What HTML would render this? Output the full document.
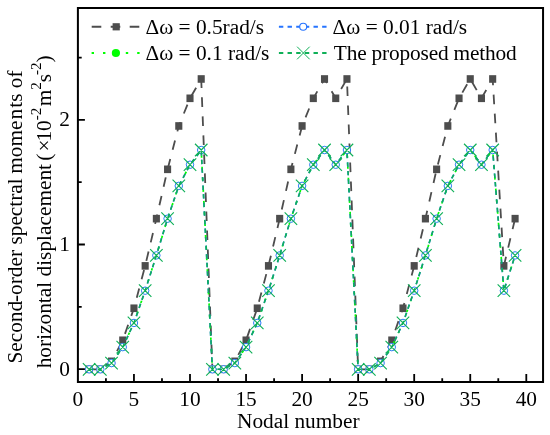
<!DOCTYPE html><html><head><meta charset="utf-8"><title>chart</title><style>html,body{margin:0;padding:0;background:#fff}svg{display:block}text{font-family:"Liberation Serif","Times New Roman",serif;font-size:21.33px;fill:#000}</style></head><body>
<svg width="550" height="435" viewBox="0 0 550 435">
<rect width="550" height="435" fill="#fff"/>
<polyline points="89.11,369.30 100.32,369.30 111.53,361.33 122.74,340.27 133.95,308.25 145.16,265.88 156.37,218.66 167.58,169.32 178.79,125.96 190.00,98.30 201.21,78.98 212.42,369.30 223.63,369.30 234.84,361.33 246.05,340.27 257.26,308.25 268.47,265.88 279.68,218.66 290.89,169.32 302.10,125.96 313.31,98.30 324.52,78.98 335.73,98.30 346.94,78.98 358.15,369.30 369.36,369.30 380.57,361.33 391.78,340.27 402.99,308.25 414.20,265.88 425.41,218.66 436.62,169.32 447.83,125.96 459.04,98.30 470.25,78.98 481.46,98.30 492.67,78.98 503.88,265.88 515.09,218.66" fill="none" stroke="#4d4d4d" stroke-width="1.8" stroke-dasharray="9.6 9.43" stroke-dashoffset="1.5"/>
<rect x="85.56" y="365.50" width="7.1" height="7.6" fill="#4d4d4d"/>
<rect x="96.77" y="365.50" width="7.1" height="7.6" fill="#4d4d4d"/>
<rect x="107.98" y="357.53" width="7.1" height="7.6" fill="#4d4d4d"/>
<rect x="119.19" y="336.47" width="7.1" height="7.6" fill="#4d4d4d"/>
<rect x="130.40" y="304.45" width="7.1" height="7.6" fill="#4d4d4d"/>
<rect x="141.61" y="262.08" width="7.1" height="7.6" fill="#4d4d4d"/>
<rect x="152.82" y="214.86" width="7.1" height="7.6" fill="#4d4d4d"/>
<rect x="164.03" y="165.52" width="7.1" height="7.6" fill="#4d4d4d"/>
<rect x="175.24" y="122.16" width="7.1" height="7.6" fill="#4d4d4d"/>
<rect x="186.45" y="94.50" width="7.1" height="7.6" fill="#4d4d4d"/>
<rect x="197.66" y="75.18" width="7.1" height="7.6" fill="#4d4d4d"/>
<rect x="208.87" y="365.50" width="7.1" height="7.6" fill="#4d4d4d"/>
<rect x="220.08" y="365.50" width="7.1" height="7.6" fill="#4d4d4d"/>
<rect x="231.29" y="357.53" width="7.1" height="7.6" fill="#4d4d4d"/>
<rect x="242.50" y="336.47" width="7.1" height="7.6" fill="#4d4d4d"/>
<rect x="253.71" y="304.45" width="7.1" height="7.6" fill="#4d4d4d"/>
<rect x="264.92" y="262.08" width="7.1" height="7.6" fill="#4d4d4d"/>
<rect x="276.13" y="214.86" width="7.1" height="7.6" fill="#4d4d4d"/>
<rect x="287.34" y="165.52" width="7.1" height="7.6" fill="#4d4d4d"/>
<rect x="298.55" y="122.16" width="7.1" height="7.6" fill="#4d4d4d"/>
<rect x="309.76" y="94.50" width="7.1" height="7.6" fill="#4d4d4d"/>
<rect x="320.97" y="75.18" width="7.1" height="7.6" fill="#4d4d4d"/>
<rect x="332.18" y="94.50" width="7.1" height="7.6" fill="#4d4d4d"/>
<rect x="343.39" y="75.18" width="7.1" height="7.6" fill="#4d4d4d"/>
<rect x="354.60" y="365.50" width="7.1" height="7.6" fill="#4d4d4d"/>
<rect x="365.81" y="365.50" width="7.1" height="7.6" fill="#4d4d4d"/>
<rect x="377.02" y="357.53" width="7.1" height="7.6" fill="#4d4d4d"/>
<rect x="388.23" y="336.47" width="7.1" height="7.6" fill="#4d4d4d"/>
<rect x="399.44" y="304.45" width="7.1" height="7.6" fill="#4d4d4d"/>
<rect x="410.65" y="262.08" width="7.1" height="7.6" fill="#4d4d4d"/>
<rect x="421.86" y="214.86" width="7.1" height="7.6" fill="#4d4d4d"/>
<rect x="433.07" y="165.52" width="7.1" height="7.6" fill="#4d4d4d"/>
<rect x="444.28" y="122.16" width="7.1" height="7.6" fill="#4d4d4d"/>
<rect x="455.49" y="94.50" width="7.1" height="7.6" fill="#4d4d4d"/>
<rect x="466.70" y="75.18" width="7.1" height="7.6" fill="#4d4d4d"/>
<rect x="477.91" y="94.50" width="7.1" height="7.6" fill="#4d4d4d"/>
<rect x="489.12" y="75.18" width="7.1" height="7.6" fill="#4d4d4d"/>
<rect x="500.33" y="262.08" width="7.1" height="7.6" fill="#4d4d4d"/>
<rect x="511.54" y="214.86" width="7.1" height="7.6" fill="#4d4d4d"/>
<polyline points="89.11,369.30 100.32,369.30 111.53,363.07 122.74,347.12 133.95,322.95 145.16,290.68 156.37,255.42 167.58,218.66 178.79,185.89 190.00,164.71 201.21,150.01 212.42,369.30 223.63,369.30 234.84,363.07 246.05,347.12 257.26,322.95 268.47,290.68 279.68,255.42 290.89,218.66 302.10,185.89 313.31,164.71 324.52,150.01 335.73,164.71 346.94,150.01 358.15,369.30 369.36,369.30 380.57,363.07 391.78,347.12 402.99,322.95 414.20,290.68 425.41,255.42 436.62,218.66 447.83,185.89 459.04,164.71 470.25,150.01 481.46,164.71 492.67,150.01 503.88,290.68 515.09,255.42" fill="none" stroke="#00ff00" stroke-width="1.7" stroke-dasharray="2.4 9"/>
<circle cx="89.11" cy="369.30" r="3.6" fill="#00ff00"/>
<circle cx="100.32" cy="369.30" r="3.6" fill="#00ff00"/>
<circle cx="111.53" cy="363.07" r="3.6" fill="#00ff00"/>
<circle cx="122.74" cy="347.12" r="3.6" fill="#00ff00"/>
<circle cx="133.95" cy="322.95" r="3.6" fill="#00ff00"/>
<circle cx="145.16" cy="290.68" r="3.6" fill="#00ff00"/>
<circle cx="156.37" cy="255.42" r="3.6" fill="#00ff00"/>
<circle cx="167.58" cy="218.66" r="3.6" fill="#00ff00"/>
<circle cx="178.79" cy="185.89" r="3.6" fill="#00ff00"/>
<circle cx="190.00" cy="164.71" r="3.6" fill="#00ff00"/>
<circle cx="201.21" cy="150.01" r="3.6" fill="#00ff00"/>
<circle cx="212.42" cy="369.30" r="3.6" fill="#00ff00"/>
<circle cx="223.63" cy="369.30" r="3.6" fill="#00ff00"/>
<circle cx="234.84" cy="363.07" r="3.6" fill="#00ff00"/>
<circle cx="246.05" cy="347.12" r="3.6" fill="#00ff00"/>
<circle cx="257.26" cy="322.95" r="3.6" fill="#00ff00"/>
<circle cx="268.47" cy="290.68" r="3.6" fill="#00ff00"/>
<circle cx="279.68" cy="255.42" r="3.6" fill="#00ff00"/>
<circle cx="290.89" cy="218.66" r="3.6" fill="#00ff00"/>
<circle cx="302.10" cy="185.89" r="3.6" fill="#00ff00"/>
<circle cx="313.31" cy="164.71" r="3.6" fill="#00ff00"/>
<circle cx="324.52" cy="150.01" r="3.6" fill="#00ff00"/>
<circle cx="335.73" cy="164.71" r="3.6" fill="#00ff00"/>
<circle cx="346.94" cy="150.01" r="3.6" fill="#00ff00"/>
<circle cx="358.15" cy="369.30" r="3.6" fill="#00ff00"/>
<circle cx="369.36" cy="369.30" r="3.6" fill="#00ff00"/>
<circle cx="380.57" cy="363.07" r="3.6" fill="#00ff00"/>
<circle cx="391.78" cy="347.12" r="3.6" fill="#00ff00"/>
<circle cx="402.99" cy="322.95" r="3.6" fill="#00ff00"/>
<circle cx="414.20" cy="290.68" r="3.6" fill="#00ff00"/>
<circle cx="425.41" cy="255.42" r="3.6" fill="#00ff00"/>
<circle cx="436.62" cy="218.66" r="3.6" fill="#00ff00"/>
<circle cx="447.83" cy="185.89" r="3.6" fill="#00ff00"/>
<circle cx="459.04" cy="164.71" r="3.6" fill="#00ff00"/>
<circle cx="470.25" cy="150.01" r="3.6" fill="#00ff00"/>
<circle cx="481.46" cy="164.71" r="3.6" fill="#00ff00"/>
<circle cx="492.67" cy="150.01" r="3.6" fill="#00ff00"/>
<circle cx="503.88" cy="290.68" r="3.6" fill="#00ff00"/>
<circle cx="515.09" cy="255.42" r="3.6" fill="#00ff00"/>
<polyline points="89.11,369.30 100.32,369.30 111.53,363.07 122.74,347.12 133.95,322.95 145.16,290.68 156.37,255.42 167.58,218.66 178.79,185.89 190.00,164.71 201.21,150.01 212.42,369.30 223.63,369.30 234.84,363.07 246.05,347.12 257.26,322.95 268.47,290.68 279.68,255.42 290.89,218.66 302.10,185.89 313.31,164.71 324.52,150.01 335.73,164.71 346.94,150.01 358.15,369.30 369.36,369.30 380.57,363.07 391.78,347.12 402.99,322.95 414.20,290.68 425.41,255.42 436.62,218.66 447.83,185.89 459.04,164.71 470.25,150.01 481.46,164.71 492.67,150.01 503.88,290.68 515.09,255.42" fill="none" stroke="#2674ff" stroke-width="1.6" stroke-dasharray="4.4 4.2"/>
<circle cx="89.11" cy="369.30" r="3.75" fill="#fff" stroke="#2674ff" stroke-width="0.95"/>
<circle cx="100.32" cy="369.30" r="3.75" fill="#fff" stroke="#2674ff" stroke-width="0.95"/>
<circle cx="111.53" cy="363.07" r="3.75" fill="#fff" stroke="#2674ff" stroke-width="0.95"/>
<circle cx="122.74" cy="347.12" r="3.75" fill="#fff" stroke="#2674ff" stroke-width="0.95"/>
<circle cx="133.95" cy="322.95" r="3.75" fill="#fff" stroke="#2674ff" stroke-width="0.95"/>
<circle cx="145.16" cy="290.68" r="3.75" fill="#fff" stroke="#2674ff" stroke-width="0.95"/>
<circle cx="156.37" cy="255.42" r="3.75" fill="#fff" stroke="#2674ff" stroke-width="0.95"/>
<circle cx="167.58" cy="218.66" r="3.75" fill="#fff" stroke="#2674ff" stroke-width="0.95"/>
<circle cx="178.79" cy="185.89" r="3.75" fill="#fff" stroke="#2674ff" stroke-width="0.95"/>
<circle cx="190.00" cy="164.71" r="3.75" fill="#fff" stroke="#2674ff" stroke-width="0.95"/>
<circle cx="201.21" cy="150.01" r="3.75" fill="#fff" stroke="#2674ff" stroke-width="0.95"/>
<circle cx="212.42" cy="369.30" r="3.75" fill="#fff" stroke="#2674ff" stroke-width="0.95"/>
<circle cx="223.63" cy="369.30" r="3.75" fill="#fff" stroke="#2674ff" stroke-width="0.95"/>
<circle cx="234.84" cy="363.07" r="3.75" fill="#fff" stroke="#2674ff" stroke-width="0.95"/>
<circle cx="246.05" cy="347.12" r="3.75" fill="#fff" stroke="#2674ff" stroke-width="0.95"/>
<circle cx="257.26" cy="322.95" r="3.75" fill="#fff" stroke="#2674ff" stroke-width="0.95"/>
<circle cx="268.47" cy="290.68" r="3.75" fill="#fff" stroke="#2674ff" stroke-width="0.95"/>
<circle cx="279.68" cy="255.42" r="3.75" fill="#fff" stroke="#2674ff" stroke-width="0.95"/>
<circle cx="290.89" cy="218.66" r="3.75" fill="#fff" stroke="#2674ff" stroke-width="0.95"/>
<circle cx="302.10" cy="185.89" r="3.75" fill="#fff" stroke="#2674ff" stroke-width="0.95"/>
<circle cx="313.31" cy="164.71" r="3.75" fill="#fff" stroke="#2674ff" stroke-width="0.95"/>
<circle cx="324.52" cy="150.01" r="3.75" fill="#fff" stroke="#2674ff" stroke-width="0.95"/>
<circle cx="335.73" cy="164.71" r="3.75" fill="#fff" stroke="#2674ff" stroke-width="0.95"/>
<circle cx="346.94" cy="150.01" r="3.75" fill="#fff" stroke="#2674ff" stroke-width="0.95"/>
<circle cx="358.15" cy="369.30" r="3.75" fill="#fff" stroke="#2674ff" stroke-width="0.95"/>
<circle cx="369.36" cy="369.30" r="3.75" fill="#fff" stroke="#2674ff" stroke-width="0.95"/>
<circle cx="380.57" cy="363.07" r="3.75" fill="#fff" stroke="#2674ff" stroke-width="0.95"/>
<circle cx="391.78" cy="347.12" r="3.75" fill="#fff" stroke="#2674ff" stroke-width="0.95"/>
<circle cx="402.99" cy="322.95" r="3.75" fill="#fff" stroke="#2674ff" stroke-width="0.95"/>
<circle cx="414.20" cy="290.68" r="3.75" fill="#fff" stroke="#2674ff" stroke-width="0.95"/>
<circle cx="425.41" cy="255.42" r="3.75" fill="#fff" stroke="#2674ff" stroke-width="0.95"/>
<circle cx="436.62" cy="218.66" r="3.75" fill="#fff" stroke="#2674ff" stroke-width="0.95"/>
<circle cx="447.83" cy="185.89" r="3.75" fill="#fff" stroke="#2674ff" stroke-width="0.95"/>
<circle cx="459.04" cy="164.71" r="3.75" fill="#fff" stroke="#2674ff" stroke-width="0.95"/>
<circle cx="470.25" cy="150.01" r="3.75" fill="#fff" stroke="#2674ff" stroke-width="0.95"/>
<circle cx="481.46" cy="164.71" r="3.75" fill="#fff" stroke="#2674ff" stroke-width="0.95"/>
<circle cx="492.67" cy="150.01" r="3.75" fill="#fff" stroke="#2674ff" stroke-width="0.95"/>
<circle cx="503.88" cy="290.68" r="3.75" fill="#fff" stroke="#2674ff" stroke-width="0.95"/>
<circle cx="515.09" cy="255.42" r="3.75" fill="#fff" stroke="#2674ff" stroke-width="0.95"/>
<polyline points="89.11,369.30 100.32,369.30 111.53,363.07 122.74,347.12 133.95,322.95 145.16,290.68 156.37,255.42 167.58,218.66 178.79,185.89 190.00,164.71 201.21,150.01 212.42,369.30 223.63,369.30 234.84,363.07 246.05,347.12 257.26,322.95 268.47,290.68 279.68,255.42 290.89,218.66 302.10,185.89 313.31,164.71 324.52,150.01 335.73,164.71 346.94,150.01 358.15,369.30 369.36,369.30 380.57,363.07 391.78,347.12 402.99,322.95 414.20,290.68 425.41,255.42 436.62,218.66 447.83,185.89 459.04,164.71 470.25,150.01 481.46,164.71 492.67,150.01 503.88,290.68 515.09,255.42" fill="none" stroke="#0fb058" stroke-width="1.6" stroke-dasharray="4.4 4.2"/>
<path d="M82.86 363.05L95.36 375.55M82.86 375.55L95.36 363.05M94.07 363.05L106.57 375.55M94.07 375.55L106.57 363.05M105.28 356.82L117.78 369.32M105.28 369.32L117.78 356.82M116.49 340.87L128.99 353.37M116.49 353.37L128.99 340.87M127.70 316.70L140.20 329.20M127.70 329.20L140.20 316.70M138.91 284.43L151.41 296.93M138.91 296.93L151.41 284.43M150.12 249.17L162.62 261.67M150.12 261.67L162.62 249.17M161.33 212.41L173.83 224.91M161.33 224.91L173.83 212.41M172.54 179.64L185.04 192.14M172.54 192.14L185.04 179.64M183.75 158.46L196.25 170.96M183.75 170.96L196.25 158.46M194.96 143.76L207.46 156.26M194.96 156.26L207.46 143.76M206.17 363.05L218.67 375.55M206.17 375.55L218.67 363.05M217.38 363.05L229.88 375.55M217.38 375.55L229.88 363.05M228.59 356.82L241.09 369.32M228.59 369.32L241.09 356.82M239.80 340.87L252.30 353.37M239.80 353.37L252.30 340.87M251.01 316.70L263.51 329.20M251.01 329.20L263.51 316.70M262.22 284.43L274.72 296.93M262.22 296.93L274.72 284.43M273.43 249.17L285.93 261.67M273.43 261.67L285.93 249.17M284.64 212.41L297.14 224.91M284.64 224.91L297.14 212.41M295.85 179.64L308.35 192.14M295.85 192.14L308.35 179.64M307.06 158.46L319.56 170.96M307.06 170.96L319.56 158.46M318.27 143.76L330.77 156.26M318.27 156.26L330.77 143.76M329.48 158.46L341.98 170.96M329.48 170.96L341.98 158.46M340.69 143.76L353.19 156.26M340.69 156.26L353.19 143.76M351.90 363.05L364.40 375.55M351.90 375.55L364.40 363.05M363.11 363.05L375.61 375.55M363.11 375.55L375.61 363.05M374.32 356.82L386.82 369.32M374.32 369.32L386.82 356.82M385.53 340.87L398.03 353.37M385.53 353.37L398.03 340.87M396.74 316.70L409.24 329.20M396.74 329.20L409.24 316.70M407.95 284.43L420.45 296.93M407.95 296.93L420.45 284.43M419.16 249.17L431.66 261.67M419.16 261.67L431.66 249.17M430.37 212.41L442.87 224.91M430.37 224.91L442.87 212.41M441.58 179.64L454.08 192.14M441.58 192.14L454.08 179.64M452.79 158.46L465.29 170.96M452.79 170.96L465.29 158.46M464.00 143.76L476.50 156.26M464.00 156.26L476.50 143.76M475.21 158.46L487.71 170.96M475.21 170.96L487.71 158.46M486.42 143.76L498.92 156.26M486.42 156.26L498.92 143.76M497.63 284.43L510.13 296.93M497.63 296.93L510.13 284.43M508.84 249.17L521.34 261.67M508.84 261.67L521.34 249.17" fill="none" stroke="#0fb058" stroke-width="1.15"/>
<rect x="77.9" y="8.0" width="465.15" height="374.0" fill="none" stroke="#000" stroke-width="2"/>
<path d="M133.95 382.0V374.0M190.00 382.0V374.0M246.05 382.0V374.0M302.10 382.0V374.0M358.15 382.0V374.0M414.20 382.0V374.0M470.25 382.0V374.0M526.30 382.0V374.0M105.93 382.0V378.2M161.98 382.0V378.2M218.03 382.0V378.2M274.08 382.0V378.2M330.12 382.0V378.2M386.18 382.0V378.2M442.23 382.0V378.2M498.28 382.0V378.2M77.9 369.10H84.9M77.9 306.80H81.7M77.9 244.50H84.9M77.9 182.20H81.7M77.9 119.90H84.9M77.9 57.60H81.7" fill="none" stroke="#000" stroke-width="1.8"/>
<text x="77.90" y="406" text-anchor="middle">0</text>
<text x="133.95" y="406" text-anchor="middle">5</text>
<text x="190.00" y="406" text-anchor="middle">10</text>
<text x="246.05" y="406" text-anchor="middle">15</text>
<text x="302.10" y="406" text-anchor="middle">20</text>
<text x="358.15" y="406" text-anchor="middle">25</text>
<text x="414.20" y="406" text-anchor="middle">30</text>
<text x="470.25" y="406" text-anchor="middle">35</text>
<text x="526.30" y="406" text-anchor="middle">40</text>
<text x="70" y="375.50" text-anchor="end">0</text>
<text x="70" y="250.90" text-anchor="end">1</text>
<text x="70" y="126.30" text-anchor="end">2</text>
<text x="237" y="428.3">Nodal number</text>
<text transform="translate(22 363.6) rotate(-90)">Second<tspan dx="-1.2">-order spectral</tspan><tspan dx="-0.9"> mome</tspan><tspan dx="0.9">n</tspan><tspan dx="1.2">ts of</tspan></text>
<text transform="translate(50.7 368.3) rotate(-90)">horizontal displacement</text>
<text transform="translate(50.7 160.7) rotate(-90)">(<tspan dx="2">×</tspan><tspan dx="-2">10</tspan><tspan font-size="15" dy="-9.3">-2</tspan><tspan dy="9.3" dx="1.5">m</tspan><tspan font-size="15" dy="-9.3">2</tspan><tspan dy="9.3">s</tspan><tspan font-size="15" dy="-9.3" dx="-1.2">-2</tspan><tspan dy="9.3">)</tspan></text>
<path d="M91.7 26.8H139.3" stroke="#4d4d4d" stroke-width="2" stroke-dasharray="9.6 9.4" fill="none"/>
<rect x="112.60000000000001" y="23.2" width="7.2" height="7.2" fill="#4d4d4d"/>
<path d="M91.6 53.0H140" stroke="#00ff00" stroke-width="2" stroke-dasharray="2.4 9" fill="none"/>
<circle cx="115.9" cy="53.0" r="4.1" fill="#00ff00"/>
<path d="M278.9 26.8H326.6" stroke="#2674ff" stroke-width="2" stroke-dasharray="4.4 4.25" fill="none"/>
<circle cx="303.2" cy="26.8" r="3.5" fill="#fff" stroke="#2674ff" stroke-width="1.1"/>
<path d="M278.9 53.0H326.6" stroke="#0fb058" stroke-width="2" stroke-dasharray="4.4 4.25" fill="none"/>
<path d="M297.09999999999997 46.7L309.7 59.3M297.09999999999997 59.3L309.7 46.7" stroke="#0fb058" stroke-width="1" fill="none"/>
<text x="145.5" y="33.6">Δω = 0.5rad/s</text>
<text x="145.5" y="59.8">Δω = 0.1 rad/s</text>
<text x="332.6" y="33.6">Δω = 0.01 rad/s</text>
<text x="333.8" y="59.8" letter-spacing="-0.17">The proposed method</text>
</svg></body></html>
